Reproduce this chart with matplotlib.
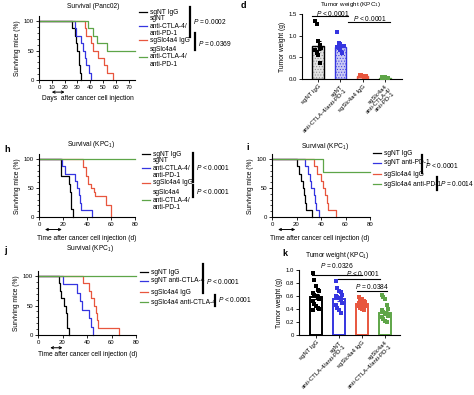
import matplotlib
matplotlib.use("Agg")
import matplotlib.pyplot as plt
import numpy as np
from matplotlib.ticker import MultipleLocator

# ==========================================
# DATA
# ==========================================

BLACK = "#000000"
BLUE = "#3535e0"
RED = "#e8563e"
GREEN = "#5ea548"
colors = [BLACK, BLUE, RED, GREEN]

# survival curves: (event time in days, % surviving after the event)
panc_black_t = [0, 26, 28, 29, 30, 31, 32, 33]
panc_black_s = [100, 87.5, 75, 62.5, 50, 25, 12.5, 0]
panc_blue_t = [0, 28, 29, 33, 34, 36, 37, 39, 41]
panc_blue_s = [100, 87.5, 75, 62.5, 50, 37.5, 25, 12.5, 0]
panc_red_t = [0, 36, 37, 41, 42, 46, 51, 53, 58]
panc_red_s = [100, 87.5, 75, 62.5, 50, 37.5, 25, 12.5, 0]
panc_green_t = [0, 38, 42, 45, 53, 75]
panc_green_s = [100, 87.5, 75, 62.5, 50, 50]

h_black_t = [0, 18, 25, 26, 26.5, 27, 28]
h_black_s = [100, 71.4, 57.1, 42.9, 28.6, 14.3, 0]
h_blue_t = [0, 19, 22, 30, 32, 33, 34, 35, 44]
h_blue_s = [100, 87.5, 75, 62.5, 50, 37.5, 25, 12.5, 0]
h_red_t = [0, 37, 39, 41, 43, 46, 47, 56, 60]
h_red_s = [100, 85.7, 71.4, 57.1, 50, 42.9, 35.7, 21.4, 0]
h_green_t = [0, 80]
h_green_s = [100, 100]

i_black_t = [0, 20, 22, 24, 25, 26, 27, 28, 33]
i_black_s = [100, 87.5, 75, 62.5, 50, 37.5, 25, 12.5, 0]
i_blue_t = [0, 27, 29, 31, 32, 34, 35, 36, 38]
i_blue_s = [100, 87.5, 75, 62.5, 50, 37.5, 25, 12.5, 0]
i_red_t = [0, 34, 37, 40, 42, 43, 45, 46, 52]
i_red_s = [100, 87.5, 75, 62.5, 50, 37.5, 25, 12.5, 0]
i_green_t = [0, 42, 80]
i_green_s = [100, 77.8, 77.8]

j_black_t = [0, 17, 18, 19, 21, 23, 23.5, 24, 25.5]
j_black_s = [100, 87.5, 75, 62.5, 50, 37.5, 25, 12.5, 0]
j_blue_t = [0, 20, 32, 34, 36, 42, 43, 45]
j_blue_s = [100, 85.7, 71.4, 57.1, 42.9, 28.6, 14.3, 0]
j_red_t = [0, 37, 42, 43, 46, 47, 48, 49, 66]
j_red_s = [100, 87.5, 75, 62.5, 50, 37.5, 25, 12.5, 0]
j_green_t = [0, 80]
j_green_s = [100, 100]

# tumour weights (g)
d_labels = ["sgNT IgG", "sgNT\nanti-CTLA-4/anti-PD-1", "sgSlc4a4 IgG",
            "sgSlc4a4\nanti-CTLA-4/\nanti-PD-1"]
d_means = [0.77, 0.73, 0.07, 0.03]
d_sem = [0.11, 0.05, 0.01, 0.005]
d_black = [1.35, 1.27, 0.88, 0.78, 0.72, 0.68, 0.60, 0.55, 0.36]
d_blue = [1.09, 0.82, 0.80, 0.77, 0.76, 0.74, 0.72, 0.68, 0.60]
d_red = [0.10, 0.09, 0.08, 0.08, 0.07, 0.07, 0.06, 0.06, 0.05, 0.05]
d_green = [0.05, 0.04, 0.04, 0.03, 0.03, 0.03, 0.02, 0.02]

k_labels = ["sgNT IgG", "sgNT\nanti-CTLA-4/anti-PD-1", "sgSlc4a4 IgG",
            "sgSlc4a4\nanti-CTLA-4/anti-PD-1"]
k_means = [0.59, 0.56, 0.48, 0.34]
k_sem = [0.035, 0.035, 0.017, 0.035]
k_black = [0.95, 0.84, 0.75, 0.70, 0.67, 0.64, 0.62, 0.60, 0.58, 0.56, 0.52, 0.48, 0.45, 0.42, 0.40, 0.38]
k_blue = [0.83, 0.72, 0.68, 0.66, 0.62, 0.60, 0.58, 0.57, 0.55, 0.50, 0.46, 0.42, 0.38, 0.34]
k_red = [0.58, 0.56, 0.55, 0.53, 0.51, 0.50, 0.49, 0.48, 0.46, 0.45, 0.44, 0.42, 0.40, 0.38]
k_green = [0.62, 0.58, 0.55, 0.46, 0.40, 0.38, 0.36, 0.34, 0.32, 0.30, 0.28, 0.25, 0.22, 0.20]

# ==========================================
# HELPERS (positions in pixels of the 474x395 figure)
# ==========================================

W, H = 474, 395
FS = 4.8
plt.rcParams["font.family"] = ["Liberation Sans", "DejaVu Sans"]
plt.rcParams["mathtext.fontset"] = "custom"
plt.rcParams["mathtext.it"] = "Liberation Sans:italic"
plt.rcParams["mathtext.rm"] = "Liberation Sans"
plt.rcParams["hatch.linewidth"] = 0.4

fig = plt.figure(figsize=(W / 100, H / 100), dpi=100)


def fx(x):
    return x / W


def fy(y):
    return 1 - y / H


def add_ax(left, right, top, bottom):
    ax = fig.add_axes([fx(left), fy(bottom), (right - left) / W, (bottom - top) / H])
    for s in ["top", "right"]:
        ax.spines[s].set_visible(False)
    for s in ["left", "bottom"]:
        ax.spines[s].set_linewidth(0.8)
    ax.tick_params(labelsize=4.3, length=2, width=0.6, pad=1.5)
    ax.tick_params(which="minor", length=1.2, width=0.5)
    return ax


def text(x, y, s, **kw):
    kw.setdefault("fontsize", FS)
    kw.setdefault("va", "center")
    fig.text(fx(x), fy(y), s, **kw)


def vbar(x, y0, y1):
    fig.add_artist(plt.Line2D([fx(x), fx(x)], [fy(y0), fy(y1)], color="black", lw=1.6))


def legend(x_line, ys, labels):
    for y, lab, c in zip(ys, labels, colors):
        fig.add_artist(plt.Line2D([fx(x_line), fx(x_line + 8)], [fy(y), fy(y)], color=c, lw=0.9))
        text(x_line + 11, y, lab, linespacing=1.05)


def survival(ax, curves, xmax, xstep, arrow, arrow_y):
    for (t, s), c in zip(curves, colors):
        ax.plot(t, s, drawstyle="steps-post", color=c, lw=0.9, clip_on=False)
    ax.set_xlim(0, xmax)
    ax.set_ylim(0, 108)
    ax.spines["left"].set_bounds(0, 108)
    ax.set_xticks(np.arange(0, xmax + 1, xstep))
    ax.set_yticks([0, 50, 100])
    ax.yaxis.set_minor_locator(MultipleLocator(10))
    ax.set_ylabel("Surviving mice (%)", fontsize=FS, labelpad=2)
    ax.annotate("", xy=(arrow[1], arrow_y), xytext=(arrow[0], arrow_y),
                xycoords=ax.get_xaxis_transform(), textcoords=ax.get_xaxis_transform(),
                arrowprops=dict(arrowstyle="<->", lw=0.7, mutation_scale=4, shrinkA=0, shrinkB=0))


def weights(ax, means, sem, points, labels, hatched):
    x = np.arange(len(means))
    for i, (m, e, pts, c) in enumerate(zip(means, sem, points, colors)):
        if hatched:
            face = ["#e2e2e2", "#c9c9f4", "#f5c8bf", "#cfe8c4"][i]
            ax.bar(i, m, width=0.5, color=face, hatch="......", edgecolor="#888888" if i == 0 else c,
                   lw=0, zorder=1)
            ax.bar(i, m, width=0.5, fill=False, edgecolor=c, lw=1.0, zorder=2)
        else:
            ax.bar(i, m, width=0.52, color="white", edgecolor=c, lw=1.4, zorder=1)
        ax.errorbar(i, m, yerr=e, color=c, capsize=1.8, lw=0.8, capthick=0.8, zorder=3)
        n = len(pts)
        off = (np.arange(n) % 5 - 2) * 0.07
        ax.scatter(i + off, pts, s=5, marker="s", color=c, lw=0, zorder=4, clip_on=False)
    ax.set_xticks(x)
    ax.set_xticklabels(labels, rotation=45, ha="right", rotation_mode="anchor",
                       fontsize=4.3, linespacing=1.05)
    ax.set_ylabel("Tumor weight (g)", fontsize=FS, labelpad=2)


def sig(ax, x0, x1, y, label, tx, ty):
    ax.plot([x0, x1], [y, y], color="black", lw=0.8, clip_on=False)
    ax.text(tx, ty, label, fontsize=FS, ha="center", va="center", clip_on=False)


# ==========================================
# PANEL: SURVIVAL (Panc02)
# ==========================================

ax = add_ax(39, 135, 16.3, 80)
survival(ax, [(panc_black_t, panc_black_s), (panc_blue_t, panc_blue_s),
              (panc_red_t, panc_red_s), (panc_green_t, panc_green_s)], 75, 10, (10, 20), -0.19)
text(93, 6, "Survival (Panc02)", ha="center")
text(88, 99, "Days  after cancer cell injection", ha="center")
legend(139, [12, 26, 40, 57], ["sgNT IgG", "sgNT\nanti-CTLA-4/\nanti-PD-1", "sgSlc4a4 IgG",
                               "sgSlc4a4\nanti-CTLA-4/\nanti-PD-1"])
vbar(190, 7, 37)
text(193, 22, "$P$ = 0.0002")
vbar(195, 33, 50)
text(198, 43, "$P$ = 0.0369")

# ==========================================
# PANEL d: TUMOR WEIGHT
# ==========================================

ax = add_ax(302, 402, 14, 79)
weights(ax, d_means, d_sem, [d_black, d_blue, d_red, d_green], d_labels, True)
ax.set_xlim(-0.72, 3.76)
ax.set_ylim(0, 1.5)
ax.set_yticks([0, 0.5, 1.0, 1.5])
sig(ax, -0.27, 1.34, 1.45, "$P$ < 0.0001", 0.67, 1.515)
sig(ax, 1.34, 3.2, 1.32, "$P$ < 0.0001", 2.33, 1.40)
text(350, 4.3, "Tumor weight (KPC$_1$)", ha="center", fontsize=4.5)
text(241, 6, "d", fontweight="bold", fontsize=6.5)

# ==========================================
# PANEL h
# ==========================================

ax = add_ax(39, 135, 154.4, 217)
survival(ax, [(h_black_t, h_black_s), (h_blue_t, h_blue_s),
              (h_red_t, h_red_s), (h_green_t, h_green_s)], 80, 20, (5, 19), -0.2)
text(91, 145, "Survival (KPC$_1$)", ha="center")
text(87, 238, "Time after cancer cell injection (d)", ha="center")
text(4, 149, "h", fontweight="bold", fontsize=6.5)
legend(142, [154, 168, 183, 200], ["sgNT IgG", "sgNT\nanti-CTLA-4/\nanti-PD-1", "sgSlc4a4 IgG",
                                   "sgSlc4a4\nanti-CTLA-4/\nanti-PD-1"])
vbar(193, 153, 182)
text(196, 167, "$P$ < 0.0001")
vbar(193, 185, 197)
text(196, 192, "$P$ < 0.0001")

# ==========================================
# PANEL i
# ==========================================

ax = add_ax(272, 370, 154.4, 217)
survival(ax, [(i_black_t, i_black_s), (i_blue_t, i_blue_s),
              (i_red_t, i_red_s), (i_green_t, i_green_s)], 80, 20, (5, 19), -0.2)
text(325, 146, "Survival (KPC$_1$)", ha="center")
text(320, 238, "Time after cancer cell injection (d)", ha="center")
text(246, 148, "i", fontweight="bold", fontsize=6.5)
legend(373, [153, 163, 174, 184], ["sgNT IgG", "sgNT anti-PD-1", "sgSlc4a4 IgG", "sgSlc4a4 anti-PD-1"])
vbar(422, 155, 173)
text(425, 165, "$P$ < 0.0001")
vbar(437, 177, 190)
text(440, 183, "$P$ = 0.0014")

# ==========================================
# PANEL j
# ==========================================

ax = add_ax(38, 136, 271.3, 335)
survival(ax, [(j_black_t, j_black_s), (j_blue_t, j_blue_s),
              (j_red_t, j_red_s), (j_green_t, j_green_s)], 80, 20, (10, 20), -0.2)
text(90, 249, "Survival (KPC$_1$)", ha="center")
text(88, 355, "Time after cancer cell injection (d)", ha="center")
text(4, 250, "j", fontweight="bold", fontsize=6.5)
legend(140, [272, 281, 292, 302], ["sgNT IgG", "sgNT anti-CTLA-4", "sgSlc4a4 IgG", "sgSlc4a4 anti-CTLA-4"])
vbar(203, 264, 293)
text(206, 281, "$P$ < 0.0001")
vbar(215, 295, 306)
text(218, 300, "$P$ < 0.0001")

# ==========================================
# PANEL k: TUMOR WEIGHT
# ==========================================

ax = add_ax(299, 400, 270, 335)
weights(ax, k_means, k_sem, [k_black, k_blue, k_red, k_green], k_labels, False)
ax.set_xlim(-0.74, 3.65)
ax.set_ylim(0, 1.0)
ax.set_yticks([0, 0.2, 0.4, 0.6, 0.8, 1.0])
ax.set_yticklabels(["0", "0.2", "0.4", "0.6", "0.8", "1.0"])
sig(ax, -0.17, 2.0, 0.92, "$P$ = 0.0326", 0.9, 1.07)
sig(ax, 0.96, 2.78, 0.86, "$P$ < 0.0001", 2.04, 0.94)
sig(ax, 1.78, 3.09, 0.68, "$P$ = 0.0384", 2.43, 0.75)
text(337, 255.5, "Tumor weight (KPC$_1$)", ha="center")
text(282, 253, "k", fontweight="bold", fontsize=6.5)

fig.savefig("out.png", dpi=100)
